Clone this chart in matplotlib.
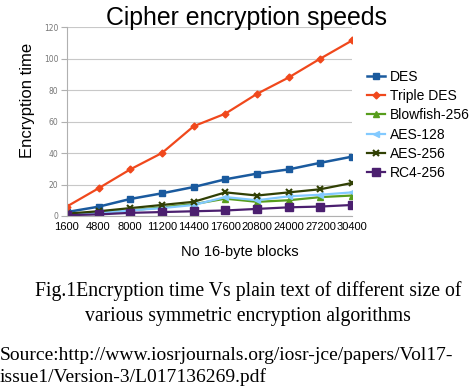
import matplotlib.pyplot as plt
import numpy as np

# data
blocks = ['1600', '4800', '8000', '11200', '14400', '17600', '20800', '24000', '27200', '30400']

des = [2.5, 5.9, 10.8, 14.4, 18.4, 23.3, 26.9, 29.6, 33.8, 37.7]
triple_des = [6, 17.6, 29.6, 40, 57, 65, 77.6, 88, 100, 111.5]
blowfish = [1, 2, 3.5, 5.5, 7.5, 11, 9, 10, 12, 13]
aes128 = [1, 2, 3.5, 5, 7, 12, 10, 12.5, 13.5, 15]
aes256 = [1.5, 3, 5, 7, 9, 15, 13, 15, 17, 21]
rc4 = [0.5, 1, 2, 2.5, 3, 3.5, 4.5, 5.5, 6, 7]

fig = plt.figure(figsize=(4.74, 3.92), dpi=100)
ax = fig.add_axes([0.141, 0.449, 0.602, 0.482])

ind = np.arange(len(blocks))

l1 = ax.plot(ind, des, color='#1a5a9e', lw=1.8, marker='s', ms=5)
l2 = ax.plot(ind, triple_des, color='#f0481c', lw=1.6, marker='D', ms=3.5)
l3 = ax.plot(ind, blowfish, color='#579d1c', lw=1.6, marker='^', ms=4.5)
l4 = ax.plot(ind, aes128, color='#83caff', lw=1.6, marker='<', ms=4.5)
l5 = ax.plot(ind, aes256, color='#314004', lw=1.6, marker='x', ms=5, mew=1.5)
l6 = ax.plot(ind, rc4, color='#4b1f6f', lw=1.6, marker='s', ms=5.5)

ax.set_xlim(0, 9)
ax.set_ylim(0, 120)
ax.set_yticks(range(0, 121, 20))
ax.set_xticks(ind)
ax.set_xticklabels(blocks, fontsize=8, family='Liberation Sans')
ax.tick_params(axis='y', labelsize=5.5, colors='#777777', length=4, pad=2)
ax.tick_params(axis='x', length=0, pad=4)
ax.tick_params(axis='y', color='#b0b0b0')
ax.grid(axis='y', color='#c8c8c8', lw=0.8)
ax.set_axisbelow(True)
for s in ['top', 'right']:
    ax.spines[s].set_visible(False)
ax.spines['left'].set_color('#b0b0b0')
ax.spines['bottom'].set_color('#b0b0b0')

fig.text(0.059, 0.745, 'Encryption time', fontsize=12, family='Liberation Sans',
         rotation=90, ha='center', va='center')

fig.text(0.52, 0.953, 'Cipher encryption speeds', fontsize=17.9, family='Liberation Sans',
         ha='center', va='center')
fig.text(0.505, 0.357, 'No 16-byte blocks', fontsize=10.5, family='Liberation Sans',
         ha='center', va='center')

ax.legend((l1[0], l2[0], l3[0], l4[0], l5[0], l6[0]),
          ('DES', 'Triple DES', 'Blowfish-256', 'AES-128', 'AES-256', 'RC4-256'),
          loc='upper left', bbox_to_anchor=(0.775, 0.822), bbox_transform=fig.transFigure,
          frameon=False, handlelength=1.3, handletextpad=0.3, labelspacing=0.38,
          borderaxespad=0, borderpad=0, prop={'family': 'Liberation Sans', 'size': 10})

fig.text(0.523, 1 - 291 / 392, 'Fig.1Encryption time Vs plain text of different size of',
         fontsize=14.2, family='Liberation Serif', ha='center', va='center')
fig.text(0.523, 1 - 316 / 392, 'various symmetric encryption algorithms',
         fontsize=14.2, family='Liberation Serif', ha='center', va='center')
fig.text(0.0, 1 - 355 / 392, 'Source:http://www.iosrjournals.org/iosr-jce/papers/Vol17-',
         fontsize=14, family='Liberation Serif', ha='left', va='center')
fig.text(0.0, 1 - 377 / 392, 'issue1/Version-3/L017136269.pdf',
         fontsize=14, family='Liberation Serif', ha='left', va='center')

plt.savefig('out.png', dpi=100)
